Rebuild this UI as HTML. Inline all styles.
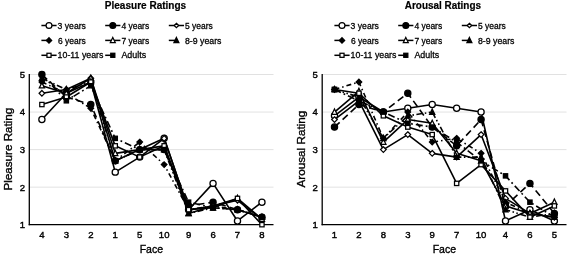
<!DOCTYPE html>
<html><head><meta charset="utf-8"><title>Ratings</title>
<style>html,body{margin:0;padding:0;background:#fff}svg{display:block}</style></head>
<body>
<svg width="567" height="254" viewBox="0 0 567 254" font-family="Liberation Sans, sans-serif" fill="#000">
<rect width="567" height="254" fill="#fff"/>
<line x1="29.3" x2="273.5" y1="187.15" y2="187.15" stroke="#d9d9d9" stroke-width="0.8"/>
<line x1="29.3" x2="273.5" y1="149.60" y2="149.60" stroke="#d9d9d9" stroke-width="0.8"/>
<line x1="29.3" x2="273.5" y1="112.05" y2="112.05" stroke="#d9d9d9" stroke-width="0.8"/>
<line x1="29.3" x2="273.5" y1="74.50" y2="74.50" stroke="#d9d9d9" stroke-width="0.8"/>
<line x1="29.3" x2="29.3" y1="74.00" y2="225.30" stroke="#000" stroke-width="1.3"/>
<line x1="28.7" x2="273.5" y1="224.70" y2="224.70" stroke="#000" stroke-width="1.3"/>
<polyline points="41.90,119.56 66.35,93.28 90.80,82.01 115.25,172.13 139.70,157.11 164.15,138.34 188.60,209.68 213.05,183.39 237.50,220.94 261.95,202.17" fill="none" stroke="#000" stroke-width="1.6" stroke-linejoin="round"/>
<circle cx="41.90" cy="119.56" r="3.10" fill="#fff" stroke="#000" stroke-width="1.25"/>
<circle cx="66.35" cy="93.28" r="3.10" fill="#fff" stroke="#000" stroke-width="1.25"/>
<circle cx="90.80" cy="82.01" r="3.10" fill="#fff" stroke="#000" stroke-width="1.25"/>
<circle cx="115.25" cy="172.13" r="3.10" fill="#fff" stroke="#000" stroke-width="1.25"/>
<circle cx="139.70" cy="157.11" r="3.10" fill="#fff" stroke="#000" stroke-width="1.25"/>
<circle cx="164.15" cy="138.34" r="3.10" fill="#fff" stroke="#000" stroke-width="1.25"/>
<circle cx="188.60" cy="209.68" r="3.10" fill="#fff" stroke="#000" stroke-width="1.25"/>
<circle cx="213.05" cy="183.39" r="3.10" fill="#fff" stroke="#000" stroke-width="1.25"/>
<circle cx="237.50" cy="220.94" r="3.10" fill="#fff" stroke="#000" stroke-width="1.25"/>
<circle cx="261.95" cy="202.17" r="3.10" fill="#fff" stroke="#000" stroke-width="1.25"/>
<polyline points="41.90,74.50 66.35,97.03 90.80,104.54 115.25,160.86 139.70,149.60 164.15,149.60 188.60,205.92 213.05,202.17 237.50,209.68 261.95,217.19" fill="none" stroke="#000" stroke-width="1.6" stroke-linejoin="round" stroke-dasharray="7 4"/>
<circle cx="41.90" cy="74.50" r="3.10" fill="#000" stroke="#000" stroke-width="1.25"/>
<circle cx="66.35" cy="97.03" r="3.10" fill="#000" stroke="#000" stroke-width="1.25"/>
<circle cx="90.80" cy="104.54" r="3.10" fill="#000" stroke="#000" stroke-width="1.25"/>
<circle cx="115.25" cy="160.86" r="3.10" fill="#000" stroke="#000" stroke-width="1.25"/>
<circle cx="139.70" cy="149.60" r="3.10" fill="#000" stroke="#000" stroke-width="1.25"/>
<circle cx="164.15" cy="149.60" r="3.10" fill="#000" stroke="#000" stroke-width="1.25"/>
<circle cx="188.60" cy="205.92" r="3.10" fill="#000" stroke="#000" stroke-width="1.25"/>
<circle cx="213.05" cy="202.17" r="3.10" fill="#000" stroke="#000" stroke-width="1.25"/>
<circle cx="237.50" cy="209.68" r="3.10" fill="#000" stroke="#000" stroke-width="1.25"/>
<circle cx="261.95" cy="217.19" r="3.10" fill="#000" stroke="#000" stroke-width="1.25"/>
<polyline points="41.90,93.28 66.35,89.52 90.80,78.25 115.25,160.86 139.70,149.60 164.15,138.34 188.60,209.68 213.05,205.92 237.50,200.29 261.95,219.07" fill="none" stroke="#000" stroke-width="1.6" stroke-linejoin="round"/>
<polygon points="41.90,90.48 44.70,93.28 41.90,96.08 39.10,93.28" fill="#fff" stroke="#000" stroke-width="1.25"/>
<polygon points="66.35,86.72 69.15,89.52 66.35,92.32 63.55,89.52" fill="#fff" stroke="#000" stroke-width="1.25"/>
<polygon points="90.80,75.45 93.60,78.25 90.80,81.05 88.00,78.25" fill="#fff" stroke="#000" stroke-width="1.25"/>
<polygon points="115.25,158.06 118.05,160.86 115.25,163.66 112.45,160.86" fill="#fff" stroke="#000" stroke-width="1.25"/>
<polygon points="139.70,146.80 142.50,149.60 139.70,152.40 136.90,149.60" fill="#fff" stroke="#000" stroke-width="1.25"/>
<polygon points="164.15,135.53 166.95,138.34 164.15,141.14 161.35,138.34" fill="#fff" stroke="#000" stroke-width="1.25"/>
<polygon points="188.60,206.88 191.40,209.68 188.60,212.48 185.80,209.68" fill="#fff" stroke="#000" stroke-width="1.25"/>
<polygon points="213.05,203.12 215.85,205.92 213.05,208.72 210.25,205.92" fill="#fff" stroke="#000" stroke-width="1.25"/>
<polygon points="237.50,197.49 240.30,200.29 237.50,203.09 234.70,200.29" fill="#fff" stroke="#000" stroke-width="1.25"/>
<polygon points="261.95,216.27 264.75,219.07 261.95,221.87 259.15,219.07" fill="#fff" stroke="#000" stroke-width="1.25"/>
<polyline points="41.90,82.01 66.35,93.28 90.80,108.30 115.25,160.86 139.70,142.09 164.15,164.62 188.60,209.68 213.05,205.92 237.50,209.68 261.95,217.19" fill="none" stroke="#000" stroke-width="1.6" stroke-linejoin="round" stroke-dasharray="5 3 1.5 3"/>
<polygon points="41.90,79.21 44.70,82.01 41.90,84.81 39.10,82.01" fill="#000" stroke="#000" stroke-width="1.25"/>
<polygon points="66.35,90.48 69.15,93.28 66.35,96.08 63.55,93.28" fill="#000" stroke="#000" stroke-width="1.25"/>
<polygon points="90.80,105.50 93.60,108.30 90.80,111.10 88.00,108.30" fill="#000" stroke="#000" stroke-width="1.25"/>
<polygon points="115.25,158.06 118.05,160.86 115.25,163.66 112.45,160.86" fill="#000" stroke="#000" stroke-width="1.25"/>
<polygon points="139.70,139.29 142.50,142.09 139.70,144.89 136.90,142.09" fill="#000" stroke="#000" stroke-width="1.25"/>
<polygon points="164.15,161.82 166.95,164.62 164.15,167.42 161.35,164.62" fill="#000" stroke="#000" stroke-width="1.25"/>
<polygon points="188.60,206.88 191.40,209.68 188.60,212.48 185.80,209.68" fill="#000" stroke="#000" stroke-width="1.25"/>
<polygon points="213.05,203.12 215.85,205.92 213.05,208.72 210.25,205.92" fill="#000" stroke="#000" stroke-width="1.25"/>
<polygon points="237.50,206.88 240.30,209.68 237.50,212.48 234.70,209.68" fill="#000" stroke="#000" stroke-width="1.25"/>
<polygon points="261.95,214.39 264.75,217.19 261.95,219.99 259.15,217.19" fill="#000" stroke="#000" stroke-width="1.25"/>
<polyline points="41.90,85.76 66.35,93.28 90.80,78.25 115.25,153.36 139.70,149.60 164.15,145.84 188.60,213.44 213.05,205.92 237.50,198.41 261.95,219.07" fill="none" stroke="#000" stroke-width="1.6" stroke-linejoin="round"/>
<polygon points="41.90,82.64 44.50,87.97 39.30,87.97" fill="#fff" stroke="#000" stroke-width="1.25"/>
<polygon points="66.35,90.16 68.95,95.48 63.75,95.48" fill="#fff" stroke="#000" stroke-width="1.25"/>
<polygon points="90.80,75.13 93.40,80.46 88.20,80.46" fill="#fff" stroke="#000" stroke-width="1.25"/>
<polygon points="115.25,150.24 117.85,155.57 112.65,155.57" fill="#fff" stroke="#000" stroke-width="1.25"/>
<polygon points="139.70,146.48 142.30,151.81 137.10,151.81" fill="#fff" stroke="#000" stroke-width="1.25"/>
<polygon points="164.15,142.72 166.75,148.05 161.55,148.05" fill="#fff" stroke="#000" stroke-width="1.25"/>
<polygon points="188.60,210.31 191.20,215.65 186.00,215.65" fill="#fff" stroke="#000" stroke-width="1.25"/>
<polygon points="213.05,202.80 215.65,208.13 210.45,208.13" fill="#fff" stroke="#000" stroke-width="1.25"/>
<polygon points="237.50,195.29 240.10,200.62 234.90,200.62" fill="#fff" stroke="#000" stroke-width="1.25"/>
<polygon points="261.95,215.95 264.55,221.28 259.35,221.28" fill="#fff" stroke="#000" stroke-width="1.25"/>
<polyline points="41.90,78.25 66.35,89.52 90.80,82.01 115.25,160.86 139.70,149.60 164.15,149.60 188.60,213.44 213.05,207.80 237.50,209.68 261.95,217.19" fill="none" stroke="#000" stroke-width="1.6" stroke-linejoin="round" stroke-dasharray="6 2.5 1.5 2.5 1.5 2.5"/>
<polygon points="41.90,75.13 44.50,80.46 39.30,80.46" fill="#000" stroke="#000" stroke-width="1.25"/>
<polygon points="66.35,86.40 68.95,91.73 63.75,91.73" fill="#000" stroke="#000" stroke-width="1.25"/>
<polygon points="90.80,78.89 93.40,84.22 88.20,84.22" fill="#000" stroke="#000" stroke-width="1.25"/>
<polygon points="115.25,157.74 117.85,163.07 112.65,163.07" fill="#000" stroke="#000" stroke-width="1.25"/>
<polygon points="139.70,146.48 142.30,151.81 137.10,151.81" fill="#000" stroke="#000" stroke-width="1.25"/>
<polygon points="164.15,146.48 166.75,151.81 161.55,151.81" fill="#000" stroke="#000" stroke-width="1.25"/>
<polygon points="188.60,210.31 191.20,215.65 186.00,215.65" fill="#000" stroke="#000" stroke-width="1.25"/>
<polygon points="213.05,204.68 215.65,210.01 210.45,210.01" fill="#000" stroke="#000" stroke-width="1.25"/>
<polygon points="237.50,206.56 240.10,211.89 234.90,211.89" fill="#000" stroke="#000" stroke-width="1.25"/>
<polygon points="261.95,214.07 264.55,219.40 259.35,219.40" fill="#000" stroke="#000" stroke-width="1.25"/>
<polyline points="41.90,104.54 66.35,97.03 90.80,82.01 115.25,145.84 139.70,157.11 164.15,145.84 188.60,209.68 213.05,207.80 237.50,198.41 261.95,224.70" fill="none" stroke="#000" stroke-width="1.6" stroke-linejoin="round"/>
<rect x="39.75" y="102.39" width="4.30" height="4.30" fill="#fff" stroke="#000" stroke-width="1.25"/>
<rect x="64.20" y="94.88" width="4.30" height="4.30" fill="#fff" stroke="#000" stroke-width="1.25"/>
<rect x="88.65" y="79.86" width="4.30" height="4.30" fill="#fff" stroke="#000" stroke-width="1.25"/>
<rect x="113.10" y="143.69" width="4.30" height="4.30" fill="#fff" stroke="#000" stroke-width="1.25"/>
<rect x="137.55" y="154.96" width="4.30" height="4.30" fill="#fff" stroke="#000" stroke-width="1.25"/>
<rect x="162.00" y="143.69" width="4.30" height="4.30" fill="#fff" stroke="#000" stroke-width="1.25"/>
<rect x="186.45" y="207.53" width="4.30" height="4.30" fill="#fff" stroke="#000" stroke-width="1.25"/>
<rect x="210.90" y="205.65" width="4.30" height="4.30" fill="#fff" stroke="#000" stroke-width="1.25"/>
<rect x="235.35" y="196.26" width="4.30" height="4.30" fill="#fff" stroke="#000" stroke-width="1.25"/>
<rect x="259.80" y="222.55" width="4.30" height="4.30" fill="#fff" stroke="#000" stroke-width="1.25"/>
<polyline points="41.90,74.50 66.35,100.79 90.80,85.76 115.25,138.34 139.70,149.60 164.15,149.60 188.60,202.17 213.05,207.80 237.50,209.68 261.95,217.19" fill="none" stroke="#000" stroke-width="1.6" stroke-linejoin="round" stroke-dasharray="7 3 1.8 3"/>
<rect x="39.75" y="72.35" width="4.30" height="4.30" fill="#000" stroke="#000" stroke-width="1.25"/>
<rect x="64.20" y="98.64" width="4.30" height="4.30" fill="#000" stroke="#000" stroke-width="1.25"/>
<rect x="88.65" y="83.61" width="4.30" height="4.30" fill="#000" stroke="#000" stroke-width="1.25"/>
<rect x="113.10" y="136.19" width="4.30" height="4.30" fill="#000" stroke="#000" stroke-width="1.25"/>
<rect x="137.55" y="147.45" width="4.30" height="4.30" fill="#000" stroke="#000" stroke-width="1.25"/>
<rect x="162.00" y="147.45" width="4.30" height="4.30" fill="#000" stroke="#000" stroke-width="1.25"/>
<rect x="186.45" y="200.02" width="4.30" height="4.30" fill="#000" stroke="#000" stroke-width="1.25"/>
<rect x="210.90" y="205.65" width="4.30" height="4.30" fill="#000" stroke="#000" stroke-width="1.25"/>
<rect x="235.35" y="207.53" width="4.30" height="4.30" fill="#000" stroke="#000" stroke-width="1.25"/>
<rect x="259.80" y="215.04" width="4.30" height="4.30" fill="#000" stroke="#000" stroke-width="1.25"/>
<text x="25.00" y="228.10" font-size="9.7" text-anchor="end" textLength="5.3" lengthAdjust="spacingAndGlyphs" stroke="#000" stroke-width="0.4">1</text>
<text x="25.00" y="190.55" font-size="9.7" text-anchor="end" textLength="5.3" lengthAdjust="spacingAndGlyphs" stroke="#000" stroke-width="0.4">2</text>
<text x="25.00" y="153.00" font-size="9.7" text-anchor="end" textLength="5.3" lengthAdjust="spacingAndGlyphs" stroke="#000" stroke-width="0.4">3</text>
<text x="25.00" y="115.45" font-size="9.7" text-anchor="end" textLength="5.3" lengthAdjust="spacingAndGlyphs" stroke="#000" stroke-width="0.4">4</text>
<text x="25.00" y="77.90" font-size="9.7" text-anchor="end" textLength="5.3" lengthAdjust="spacingAndGlyphs" stroke="#000" stroke-width="0.4">5</text>
<text x="41.90" y="237.7" font-size="9.7" text-anchor="middle" textLength="5.3" lengthAdjust="spacingAndGlyphs" stroke="#000" stroke-width="0.4">4</text>
<text x="66.35" y="237.7" font-size="9.7" text-anchor="middle" textLength="5.3" lengthAdjust="spacingAndGlyphs" stroke="#000" stroke-width="0.4">3</text>
<text x="90.80" y="237.7" font-size="9.7" text-anchor="middle" textLength="5.3" lengthAdjust="spacingAndGlyphs" stroke="#000" stroke-width="0.4">2</text>
<text x="115.25" y="237.7" font-size="9.7" text-anchor="middle" textLength="5.3" lengthAdjust="spacingAndGlyphs" stroke="#000" stroke-width="0.4">1</text>
<text x="139.70" y="237.7" font-size="9.7" text-anchor="middle" textLength="5.3" lengthAdjust="spacingAndGlyphs" stroke="#000" stroke-width="0.4">5</text>
<text x="164.15" y="237.7" font-size="9.7" text-anchor="middle" textLength="10.6" lengthAdjust="spacingAndGlyphs" stroke="#000" stroke-width="0.4">10</text>
<text x="188.60" y="237.7" font-size="9.7" text-anchor="middle" textLength="5.3" lengthAdjust="spacingAndGlyphs" stroke="#000" stroke-width="0.4">9</text>
<text x="213.05" y="237.7" font-size="9.7" text-anchor="middle" textLength="5.3" lengthAdjust="spacingAndGlyphs" stroke="#000" stroke-width="0.4">6</text>
<text x="237.50" y="237.7" font-size="9.7" text-anchor="middle" textLength="5.3" lengthAdjust="spacingAndGlyphs" stroke="#000" stroke-width="0.4">7</text>
<text x="261.95" y="237.7" font-size="9.7" text-anchor="middle" textLength="5.3" lengthAdjust="spacingAndGlyphs" stroke="#000" stroke-width="0.4">8</text>
<text x="151.40" y="252.8" font-size="11.6" stroke="#000" stroke-width="0.35" text-anchor="middle" textLength="23.4" lengthAdjust="spacingAndGlyphs">Face</text>
<text transform="translate(11.60,190.50) rotate(-90)" font-size="11.5" stroke="#000" stroke-width="0.35" textLength="82.8" lengthAdjust="spacingAndGlyphs">Pleasure Rating</text>
<text x="145.5" y="9.0" font-size="10.9" font-weight="bold" stroke="#000" stroke-width="0.2" text-anchor="middle" textLength="81.4" lengthAdjust="spacingAndGlyphs">Pleasure Ratings</text>
<line x1="41.40" x2="56.60" y1="25.5" y2="25.5" stroke="#000" stroke-width="1.5"/>
<circle cx="49.00" cy="25.50" r="2.94" fill="#fff" stroke="#000" stroke-width="1.25"/>
<text x="57.60" y="28.60" font-size="9.7" textLength="28.3" lengthAdjust="spacingAndGlyphs" stroke="#000" stroke-width="0.3">3 years</text>
<line x1="105.20" x2="120.40" y1="25.5" y2="25.5" stroke="#000" stroke-width="1.5"/>
<circle cx="112.80" cy="25.50" r="2.94" fill="#000" stroke="#000" stroke-width="1.25"/>
<text x="121.40" y="28.60" font-size="9.7" textLength="27.8" lengthAdjust="spacingAndGlyphs" stroke="#000" stroke-width="0.3">4 years</text>
<line x1="168.80" x2="184.00" y1="25.5" y2="25.5" stroke="#000" stroke-width="1.5"/>
<polygon points="176.40,23.26 178.64,25.50 176.40,27.74 174.16,25.50" fill="#fff" stroke="#000" stroke-width="1.25"/>
<text x="185.00" y="28.60" font-size="9.7" textLength="27.8" lengthAdjust="spacingAndGlyphs" stroke="#000" stroke-width="0.3">5 years</text>
<line x1="41.40" x2="50.00" y1="40.4" y2="40.4" stroke="#000" stroke-width="1.5"/>
<polygon points="49.00,37.74 51.66,40.40 49.00,43.06 46.34,40.40" fill="#000" stroke="#000" stroke-width="1.25"/>
<text x="58.00" y="43.50" font-size="9.7" textLength="27.8" lengthAdjust="spacingAndGlyphs" stroke="#000" stroke-width="0.3">6 years</text>
<line x1="105.20" x2="120.40" y1="40.4" y2="40.4" stroke="#000" stroke-width="1.5"/>
<polygon points="112.80,37.44 115.27,42.50 110.33,42.50" fill="#fff" stroke="#000" stroke-width="1.25"/>
<text x="121.40" y="43.50" font-size="9.7" textLength="27.8" lengthAdjust="spacingAndGlyphs" stroke="#000" stroke-width="0.3">7 years</text>
<line x1="168.80" x2="177.40" y1="40.4" y2="40.4" stroke="#000" stroke-width="1.5"/>
<polygon points="176.40,37.44 178.87,42.50 173.93,42.50" fill="#000" stroke="#000" stroke-width="1.25"/>
<text x="185.00" y="43.50" font-size="9.7" textLength="36.5" lengthAdjust="spacingAndGlyphs" stroke="#000" stroke-width="0.3">8-9 years</text>
<line x1="41.40" x2="56.60" y1="55.3" y2="55.3" stroke="#000" stroke-width="1.5"/>
<rect x="46.96" y="53.26" width="4.08" height="4.08" fill="#fff" stroke="#000" stroke-width="1.25"/>
<text x="57.60" y="58.40" font-size="9.7" textLength="45.8" lengthAdjust="spacingAndGlyphs" stroke="#000" stroke-width="0.3">10-11 years</text>
<line x1="105.20" x2="113.80" y1="55.3" y2="55.3" stroke="#000" stroke-width="1.5"/>
<rect x="110.76" y="53.26" width="4.08" height="4.08" fill="#000" stroke="#000" stroke-width="1.25"/>
<text x="121.40" y="58.40" font-size="9.7" textLength="24.7" lengthAdjust="spacingAndGlyphs" stroke="#000" stroke-width="0.3">Adults</text>
<line x1="322.2" x2="566.5" y1="187.15" y2="187.15" stroke="#d9d9d9" stroke-width="0.8"/>
<line x1="322.2" x2="566.5" y1="149.60" y2="149.60" stroke="#d9d9d9" stroke-width="0.8"/>
<line x1="322.2" x2="566.5" y1="112.05" y2="112.05" stroke="#d9d9d9" stroke-width="0.8"/>
<line x1="322.2" x2="566.5" y1="74.50" y2="74.50" stroke="#d9d9d9" stroke-width="0.8"/>
<line x1="322.2" x2="322.2" y1="74.00" y2="225.30" stroke="#000" stroke-width="1.3"/>
<line x1="321.59999999999997" x2="566.5" y1="224.70" y2="224.70" stroke="#000" stroke-width="1.3"/>
<polyline points="334.50,115.81 358.93,97.03 383.36,112.05 407.79,108.30 432.22,104.54 456.65,108.30 481.08,112.05 505.51,220.94 529.94,209.68 554.37,220.94" fill="none" stroke="#000" stroke-width="1.6" stroke-linejoin="round"/>
<circle cx="334.50" cy="115.81" r="3.10" fill="#fff" stroke="#000" stroke-width="1.25"/>
<circle cx="358.93" cy="97.03" r="3.10" fill="#fff" stroke="#000" stroke-width="1.25"/>
<circle cx="383.36" cy="112.05" r="3.10" fill="#fff" stroke="#000" stroke-width="1.25"/>
<circle cx="407.79" cy="108.30" r="3.10" fill="#fff" stroke="#000" stroke-width="1.25"/>
<circle cx="432.22" cy="104.54" r="3.10" fill="#fff" stroke="#000" stroke-width="1.25"/>
<circle cx="456.65" cy="108.30" r="3.10" fill="#fff" stroke="#000" stroke-width="1.25"/>
<circle cx="481.08" cy="112.05" r="3.10" fill="#fff" stroke="#000" stroke-width="1.25"/>
<circle cx="505.51" cy="220.94" r="3.10" fill="#fff" stroke="#000" stroke-width="1.25"/>
<circle cx="529.94" cy="209.68" r="3.10" fill="#fff" stroke="#000" stroke-width="1.25"/>
<circle cx="554.37" cy="220.94" r="3.10" fill="#fff" stroke="#000" stroke-width="1.25"/>
<polyline points="334.50,127.07 358.93,104.54 383.36,112.05 407.79,93.28 432.22,127.07 456.65,145.84 481.08,119.56 505.51,205.92 529.94,183.39 554.37,213.44" fill="none" stroke="#000" stroke-width="1.6" stroke-linejoin="round" stroke-dasharray="7 4"/>
<circle cx="334.50" cy="127.07" r="3.10" fill="#000" stroke="#000" stroke-width="1.25"/>
<circle cx="358.93" cy="104.54" r="3.10" fill="#000" stroke="#000" stroke-width="1.25"/>
<circle cx="383.36" cy="112.05" r="3.10" fill="#000" stroke="#000" stroke-width="1.25"/>
<circle cx="407.79" cy="93.28" r="3.10" fill="#000" stroke="#000" stroke-width="1.25"/>
<circle cx="432.22" cy="127.07" r="3.10" fill="#000" stroke="#000" stroke-width="1.25"/>
<circle cx="456.65" cy="145.84" r="3.10" fill="#000" stroke="#000" stroke-width="1.25"/>
<circle cx="481.08" cy="119.56" r="3.10" fill="#000" stroke="#000" stroke-width="1.25"/>
<circle cx="505.51" cy="205.92" r="3.10" fill="#000" stroke="#000" stroke-width="1.25"/>
<circle cx="529.94" cy="183.39" r="3.10" fill="#000" stroke="#000" stroke-width="1.25"/>
<circle cx="554.37" cy="213.44" r="3.10" fill="#000" stroke="#000" stroke-width="1.25"/>
<polyline points="334.50,119.56 358.93,100.79 383.36,149.60 407.79,134.58 432.22,153.36 456.65,157.11 481.08,134.58 505.51,198.41 529.94,213.44 554.37,217.19" fill="none" stroke="#000" stroke-width="1.6" stroke-linejoin="round"/>
<polygon points="334.50,116.76 337.30,119.56 334.50,122.36 331.70,119.56" fill="#fff" stroke="#000" stroke-width="1.25"/>
<polygon points="358.93,97.99 361.73,100.79 358.93,103.59 356.13,100.79" fill="#fff" stroke="#000" stroke-width="1.25"/>
<polygon points="383.36,146.80 386.16,149.60 383.36,152.40 380.56,149.60" fill="#fff" stroke="#000" stroke-width="1.25"/>
<polygon points="407.79,131.78 410.59,134.58 407.79,137.38 404.99,134.58" fill="#fff" stroke="#000" stroke-width="1.25"/>
<polygon points="432.22,150.56 435.02,153.36 432.22,156.16 429.42,153.36" fill="#fff" stroke="#000" stroke-width="1.25"/>
<polygon points="456.65,154.31 459.45,157.11 456.65,159.91 453.85,157.11" fill="#fff" stroke="#000" stroke-width="1.25"/>
<polygon points="481.08,131.78 483.88,134.58 481.08,137.38 478.28,134.58" fill="#fff" stroke="#000" stroke-width="1.25"/>
<polygon points="505.51,195.61 508.31,198.41 505.51,201.22 502.71,198.41" fill="#fff" stroke="#000" stroke-width="1.25"/>
<polygon points="529.94,210.63 532.74,213.44 529.94,216.24 527.14,213.44" fill="#fff" stroke="#000" stroke-width="1.25"/>
<polygon points="554.37,214.39 557.17,217.19 554.37,219.99 551.57,217.19" fill="#fff" stroke="#000" stroke-width="1.25"/>
<polyline points="334.50,89.52 358.93,82.01 383.36,138.34 407.79,112.05 432.22,142.09 456.65,138.34 481.08,153.36 505.51,202.17 529.94,213.44 554.37,217.19" fill="none" stroke="#000" stroke-width="1.6" stroke-linejoin="round" stroke-dasharray="5 3 1.5 3"/>
<polygon points="334.50,86.72 337.30,89.52 334.50,92.32 331.70,89.52" fill="#000" stroke="#000" stroke-width="1.25"/>
<polygon points="358.93,79.21 361.73,82.01 358.93,84.81 356.13,82.01" fill="#000" stroke="#000" stroke-width="1.25"/>
<polygon points="383.36,135.53 386.16,138.34 383.36,141.14 380.56,138.34" fill="#000" stroke="#000" stroke-width="1.25"/>
<polygon points="407.79,109.25 410.59,112.05 407.79,114.85 404.99,112.05" fill="#000" stroke="#000" stroke-width="1.25"/>
<polygon points="432.22,139.29 435.02,142.09 432.22,144.89 429.42,142.09" fill="#000" stroke="#000" stroke-width="1.25"/>
<polygon points="456.65,135.53 459.45,138.34 456.65,141.14 453.85,138.34" fill="#000" stroke="#000" stroke-width="1.25"/>
<polygon points="481.08,150.56 483.88,153.36 481.08,156.16 478.28,153.36" fill="#000" stroke="#000" stroke-width="1.25"/>
<polygon points="505.51,199.37 508.31,202.17 505.51,204.97 502.71,202.17" fill="#000" stroke="#000" stroke-width="1.25"/>
<polygon points="529.94,210.63 532.74,213.44 529.94,216.24 527.14,213.44" fill="#000" stroke="#000" stroke-width="1.25"/>
<polygon points="554.37,214.39 557.17,217.19 554.37,219.99 551.57,217.19" fill="#000" stroke="#000" stroke-width="1.25"/>
<polyline points="334.50,112.05 358.93,91.40 383.36,142.09 407.79,119.56 432.22,123.31 456.65,153.36 481.08,160.86 505.51,205.92 529.94,213.44 554.37,202.17" fill="none" stroke="#000" stroke-width="1.6" stroke-linejoin="round"/>
<polygon points="334.50,108.93 337.10,114.26 331.90,114.26" fill="#fff" stroke="#000" stroke-width="1.25"/>
<polygon points="358.93,88.28 361.53,93.61 356.33,93.61" fill="#fff" stroke="#000" stroke-width="1.25"/>
<polygon points="383.36,138.97 385.96,144.30 380.76,144.30" fill="#fff" stroke="#000" stroke-width="1.25"/>
<polygon points="407.79,116.44 410.39,121.77 405.19,121.77" fill="#fff" stroke="#000" stroke-width="1.25"/>
<polygon points="432.22,120.19 434.82,125.52 429.62,125.52" fill="#fff" stroke="#000" stroke-width="1.25"/>
<polygon points="456.65,150.24 459.25,155.57 454.05,155.57" fill="#fff" stroke="#000" stroke-width="1.25"/>
<polygon points="481.08,157.74 483.68,163.07 478.48,163.07" fill="#fff" stroke="#000" stroke-width="1.25"/>
<polygon points="505.51,202.80 508.11,208.13 502.91,208.13" fill="#fff" stroke="#000" stroke-width="1.25"/>
<polygon points="529.94,210.31 532.54,215.65 527.34,215.65" fill="#fff" stroke="#000" stroke-width="1.25"/>
<polygon points="554.37,199.05 556.97,204.38 551.77,204.38" fill="#fff" stroke="#000" stroke-width="1.25"/>
<polyline points="334.50,89.52 358.93,97.03 383.36,138.34 407.79,115.81 432.22,112.05 456.65,157.11 481.08,157.11 505.51,209.68 529.94,217.19 554.37,213.44" fill="none" stroke="#000" stroke-width="1.6" stroke-linejoin="round" stroke-dasharray="6 2.5 1.5 2.5 1.5 2.5"/>
<polygon points="334.50,86.40 337.10,91.73 331.90,91.73" fill="#000" stroke="#000" stroke-width="1.25"/>
<polygon points="358.93,93.91 361.53,99.24 356.33,99.24" fill="#000" stroke="#000" stroke-width="1.25"/>
<polygon points="383.36,135.22 385.96,140.55 380.76,140.55" fill="#000" stroke="#000" stroke-width="1.25"/>
<polygon points="407.79,112.69 410.39,118.02 405.19,118.02" fill="#000" stroke="#000" stroke-width="1.25"/>
<polygon points="432.22,108.93 434.82,114.26 429.62,114.26" fill="#000" stroke="#000" stroke-width="1.25"/>
<polygon points="456.65,153.99 459.25,159.32 454.05,159.32" fill="#000" stroke="#000" stroke-width="1.25"/>
<polygon points="481.08,153.99 483.68,159.32 478.48,159.32" fill="#000" stroke="#000" stroke-width="1.25"/>
<polygon points="505.51,206.56 508.11,211.89 502.91,211.89" fill="#000" stroke="#000" stroke-width="1.25"/>
<polygon points="529.94,214.07 532.54,219.40 527.34,219.40" fill="#000" stroke="#000" stroke-width="1.25"/>
<polygon points="554.37,210.31 556.97,215.65 551.77,215.65" fill="#000" stroke="#000" stroke-width="1.25"/>
<polyline points="334.50,89.52 358.93,93.28 383.36,115.81 407.79,127.07 432.22,134.58 456.65,183.39 481.08,164.62 505.51,190.91 529.94,217.19 554.37,205.92" fill="none" stroke="#000" stroke-width="1.6" stroke-linejoin="round"/>
<rect x="332.35" y="87.37" width="4.30" height="4.30" fill="#fff" stroke="#000" stroke-width="1.25"/>
<rect x="356.78" y="91.12" width="4.30" height="4.30" fill="#fff" stroke="#000" stroke-width="1.25"/>
<rect x="381.21" y="113.66" width="4.30" height="4.30" fill="#fff" stroke="#000" stroke-width="1.25"/>
<rect x="405.64" y="124.92" width="4.30" height="4.30" fill="#fff" stroke="#000" stroke-width="1.25"/>
<rect x="430.07" y="132.43" width="4.30" height="4.30" fill="#fff" stroke="#000" stroke-width="1.25"/>
<rect x="454.50" y="181.24" width="4.30" height="4.30" fill="#fff" stroke="#000" stroke-width="1.25"/>
<rect x="478.93" y="162.47" width="4.30" height="4.30" fill="#fff" stroke="#000" stroke-width="1.25"/>
<rect x="503.36" y="188.75" width="4.30" height="4.30" fill="#fff" stroke="#000" stroke-width="1.25"/>
<rect x="527.79" y="215.04" width="4.30" height="4.30" fill="#fff" stroke="#000" stroke-width="1.25"/>
<rect x="552.22" y="203.77" width="4.30" height="4.30" fill="#fff" stroke="#000" stroke-width="1.25"/>
<polyline points="334.50,89.52 358.93,100.79 383.36,112.05 407.79,123.31 432.22,127.07 456.65,142.09 481.08,160.86 505.51,175.88 529.94,202.17 554.37,217.19" fill="none" stroke="#000" stroke-width="1.6" stroke-linejoin="round" stroke-dasharray="7 3 1.8 3"/>
<rect x="332.35" y="87.37" width="4.30" height="4.30" fill="#000" stroke="#000" stroke-width="1.25"/>
<rect x="356.78" y="98.64" width="4.30" height="4.30" fill="#000" stroke="#000" stroke-width="1.25"/>
<rect x="381.21" y="109.90" width="4.30" height="4.30" fill="#000" stroke="#000" stroke-width="1.25"/>
<rect x="405.64" y="121.16" width="4.30" height="4.30" fill="#000" stroke="#000" stroke-width="1.25"/>
<rect x="430.07" y="124.92" width="4.30" height="4.30" fill="#000" stroke="#000" stroke-width="1.25"/>
<rect x="454.50" y="139.94" width="4.30" height="4.30" fill="#000" stroke="#000" stroke-width="1.25"/>
<rect x="478.93" y="158.71" width="4.30" height="4.30" fill="#000" stroke="#000" stroke-width="1.25"/>
<rect x="503.36" y="173.73" width="4.30" height="4.30" fill="#000" stroke="#000" stroke-width="1.25"/>
<rect x="527.79" y="200.02" width="4.30" height="4.30" fill="#000" stroke="#000" stroke-width="1.25"/>
<rect x="552.22" y="215.04" width="4.30" height="4.30" fill="#000" stroke="#000" stroke-width="1.25"/>
<text x="317.90" y="228.10" font-size="9.7" text-anchor="end" textLength="5.3" lengthAdjust="spacingAndGlyphs" stroke="#000" stroke-width="0.4">1</text>
<text x="317.90" y="190.55" font-size="9.7" text-anchor="end" textLength="5.3" lengthAdjust="spacingAndGlyphs" stroke="#000" stroke-width="0.4">2</text>
<text x="317.90" y="153.00" font-size="9.7" text-anchor="end" textLength="5.3" lengthAdjust="spacingAndGlyphs" stroke="#000" stroke-width="0.4">3</text>
<text x="317.90" y="115.45" font-size="9.7" text-anchor="end" textLength="5.3" lengthAdjust="spacingAndGlyphs" stroke="#000" stroke-width="0.4">4</text>
<text x="317.90" y="77.90" font-size="9.7" text-anchor="end" textLength="5.3" lengthAdjust="spacingAndGlyphs" stroke="#000" stroke-width="0.4">5</text>
<text x="334.50" y="237.7" font-size="9.7" text-anchor="middle" textLength="5.3" lengthAdjust="spacingAndGlyphs" stroke="#000" stroke-width="0.4">1</text>
<text x="358.93" y="237.7" font-size="9.7" text-anchor="middle" textLength="5.3" lengthAdjust="spacingAndGlyphs" stroke="#000" stroke-width="0.4">2</text>
<text x="383.36" y="237.7" font-size="9.7" text-anchor="middle" textLength="5.3" lengthAdjust="spacingAndGlyphs" stroke="#000" stroke-width="0.4">8</text>
<text x="407.79" y="237.7" font-size="9.7" text-anchor="middle" textLength="5.3" lengthAdjust="spacingAndGlyphs" stroke="#000" stroke-width="0.4">3</text>
<text x="432.22" y="237.7" font-size="9.7" text-anchor="middle" textLength="5.3" lengthAdjust="spacingAndGlyphs" stroke="#000" stroke-width="0.4">9</text>
<text x="456.65" y="237.7" font-size="9.7" text-anchor="middle" textLength="5.3" lengthAdjust="spacingAndGlyphs" stroke="#000" stroke-width="0.4">7</text>
<text x="481.08" y="237.7" font-size="9.7" text-anchor="middle" textLength="10.6" lengthAdjust="spacingAndGlyphs" stroke="#000" stroke-width="0.4">10</text>
<text x="505.51" y="237.7" font-size="9.7" text-anchor="middle" textLength="5.3" lengthAdjust="spacingAndGlyphs" stroke="#000" stroke-width="0.4">4</text>
<text x="529.94" y="237.7" font-size="9.7" text-anchor="middle" textLength="5.3" lengthAdjust="spacingAndGlyphs" stroke="#000" stroke-width="0.4">6</text>
<text x="554.37" y="237.7" font-size="9.7" text-anchor="middle" textLength="5.3" lengthAdjust="spacingAndGlyphs" stroke="#000" stroke-width="0.4">5</text>
<text x="444.35" y="252.8" font-size="11.6" stroke="#000" stroke-width="0.35" text-anchor="middle" textLength="23.4" lengthAdjust="spacingAndGlyphs">Face</text>
<text transform="translate(304.50,187.60) rotate(-90)" font-size="11.5" stroke="#000" stroke-width="0.35" textLength="77.0" lengthAdjust="spacingAndGlyphs">Arousal Rating</text>
<text x="442.9" y="9.0" font-size="10.9" font-weight="bold" stroke="#000" stroke-width="0.2" text-anchor="middle" textLength="76.2" lengthAdjust="spacingAndGlyphs">Arousal Ratings</text>
<line x1="334.40" x2="349.60" y1="25.5" y2="25.5" stroke="#000" stroke-width="1.5"/>
<circle cx="342.00" cy="25.50" r="2.94" fill="#fff" stroke="#000" stroke-width="1.25"/>
<text x="350.60" y="28.60" font-size="9.7" textLength="28.3" lengthAdjust="spacingAndGlyphs" stroke="#000" stroke-width="0.3">3 years</text>
<line x1="398.20" x2="413.40" y1="25.5" y2="25.5" stroke="#000" stroke-width="1.5"/>
<circle cx="405.80" cy="25.50" r="2.94" fill="#000" stroke="#000" stroke-width="1.25"/>
<text x="414.40" y="28.60" font-size="9.7" textLength="27.8" lengthAdjust="spacingAndGlyphs" stroke="#000" stroke-width="0.3">4 years</text>
<line x1="461.80" x2="477.00" y1="25.5" y2="25.5" stroke="#000" stroke-width="1.5"/>
<polygon points="469.40,23.26 471.64,25.50 469.40,27.74 467.16,25.50" fill="#fff" stroke="#000" stroke-width="1.25"/>
<text x="478.00" y="28.60" font-size="9.7" textLength="27.8" lengthAdjust="spacingAndGlyphs" stroke="#000" stroke-width="0.3">5 years</text>
<line x1="334.40" x2="343.00" y1="40.4" y2="40.4" stroke="#000" stroke-width="1.5"/>
<polygon points="342.00,37.74 344.66,40.40 342.00,43.06 339.34,40.40" fill="#000" stroke="#000" stroke-width="1.25"/>
<text x="351.00" y="43.50" font-size="9.7" textLength="27.8" lengthAdjust="spacingAndGlyphs" stroke="#000" stroke-width="0.3">6 years</text>
<line x1="398.20" x2="413.40" y1="40.4" y2="40.4" stroke="#000" stroke-width="1.5"/>
<polygon points="405.80,37.44 408.27,42.50 403.33,42.50" fill="#fff" stroke="#000" stroke-width="1.25"/>
<text x="414.40" y="43.50" font-size="9.7" textLength="27.8" lengthAdjust="spacingAndGlyphs" stroke="#000" stroke-width="0.3">7 years</text>
<line x1="461.80" x2="470.40" y1="40.4" y2="40.4" stroke="#000" stroke-width="1.5"/>
<polygon points="469.40,37.44 471.87,42.50 466.93,42.50" fill="#000" stroke="#000" stroke-width="1.25"/>
<text x="478.00" y="43.50" font-size="9.7" textLength="36.5" lengthAdjust="spacingAndGlyphs" stroke="#000" stroke-width="0.3">8-9 years</text>
<line x1="334.40" x2="349.60" y1="55.3" y2="55.3" stroke="#000" stroke-width="1.5"/>
<rect x="339.96" y="53.26" width="4.08" height="4.08" fill="#fff" stroke="#000" stroke-width="1.25"/>
<text x="350.60" y="58.40" font-size="9.7" textLength="45.8" lengthAdjust="spacingAndGlyphs" stroke="#000" stroke-width="0.3">10-11 years</text>
<line x1="398.20" x2="406.80" y1="55.3" y2="55.3" stroke="#000" stroke-width="1.5"/>
<rect x="403.76" y="53.26" width="4.08" height="4.08" fill="#000" stroke="#000" stroke-width="1.25"/>
<text x="414.40" y="58.40" font-size="9.7" textLength="24.7" lengthAdjust="spacingAndGlyphs" stroke="#000" stroke-width="0.3">Adults</text>
</svg>
</body></html>
